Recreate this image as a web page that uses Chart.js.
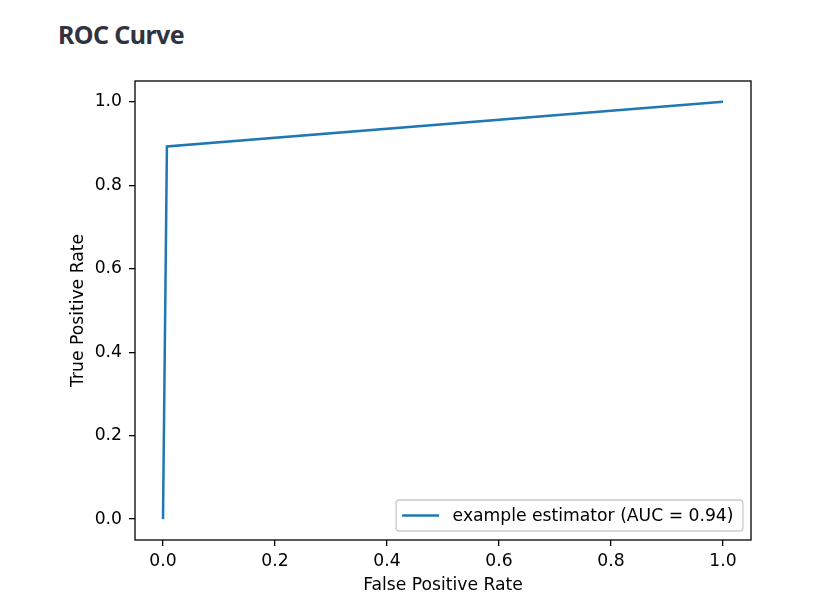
<!DOCTYPE html>
<html>
<head>
<meta charset="utf-8">
<script src="https://cdn.jsdelivr.net/npm/chart.js@4"></script>
<style>
  body { margin: 0; background: #fff; }
  #wrap { position: relative; width: 838px; height: 608px; }
  #title {
    position: absolute; left: 58px; top: 22px;
    font: bold 25px "Noto Sans", sans-serif; line-height: 25px;
    letter-spacing: -0.6px; color: #31333f;
  }
  canvas { position: absolute; left: 0; top: 0; }
</style>
</head>
<body>
<div id="wrap">
  <div id="title">ROC Curve</div>
  <canvas id="roc" width="838" height="608"></canvas>
</div>
<script>
// ── data ──
const fpr = [0, 0.007, 1.0];
const tpr = [0, 0.893, 1.0];
const seriesLabel = 'example estimator (AUC = 0.94)';
const tickValues = [0, 0.2, 0.4, 0.6, 0.8, 1.0];

const FONT = 'DejaVu Sans';
const FSIZE = 17.2;
const LINE = '#1f77b4';

// black box around the plot area (matplotlib spines)
const framePlugin = {
  id: 'frame',
  afterDraw(chart) {
    const { ctx, chartArea: a } = chart;
    ctx.save();
    ctx.strokeStyle = '#000';
    ctx.lineWidth = 1.3;
    ctx.strokeRect(a.left, a.top, a.right - a.left, a.bottom - a.top);
    ctx.restore();
  }
};

// legend inside the plot, lower right
const innerLegend = {
  id: 'innerLegend',
  afterDraw(chart) {
    const { ctx, chartArea: a } = chart;
    const ds = chart.data.datasets[0];
    ctx.save();
    ctx.font = FSIZE + 'px "' + FONT + '"';
    const tw = ctx.measureText(ds.label).width;
    const w = tw + 66, h = 31;
    const x = a.right - 8 - w, y = a.bottom - 9 - h;
    ctx.beginPath();
    ctx.roundRect(x, y, w, h, 3);
    ctx.fillStyle = 'rgba(255,255,255,0.8)';
    ctx.fill();
    ctx.strokeStyle = '#cccccc';
    ctx.lineWidth = 1.3;
    ctx.stroke();
    ctx.beginPath();
    ctx.moveTo(x + 6, y + h / 2);
    ctx.lineTo(x + 43, y + h / 2);
    ctx.strokeStyle = ds.borderColor;
    ctx.lineWidth = ds.borderWidth;
    ctx.stroke();
    ctx.fillStyle = '#000';
    ctx.textBaseline = 'middle';
    ctx.fillText(ds.label, x + 56.5, y + h / 2 + 1);
    ctx.restore();
  }
};

const fixTicks = scale => { scale.ticks = tickValues.map(v => ({ value: v })); };

const axisCommon = {
  type: 'linear',
  min: -0.05,
  max: 1.05,
  afterBuildTicks: fixTicks,
  border: { display: false },
  grid: { display: true, drawOnChartArea: false, drawTicks: true, tickLength: 6, color: '#000', tickColor: '#000', lineWidth: 1.3 },
};

const tickStyle = {
  color: '#000',
  font: { family: FONT, size: FSIZE },
  maxRotation: 0,
  autoSkip: false,
  callback: v => v.toFixed(1),
};

new Chart(document.getElementById('roc'), {
  type: 'scatter',
  data: {
    datasets: [{
      label: seriesLabel,
      data: fpr.map((x, i) => ({ x, y: tpr[i] })),
      showLine: true,
      borderColor: LINE,
      backgroundColor: LINE,
      borderWidth: 2.5,
      pointRadius: 0,
      tension: 0,
    }],
  },
  options: {
    responsive: false,
    animation: false,
    layout: { padding: { left: 0, top: 81, right: 87, bottom: 0 } },
    plugins: {
      legend: { display: false },
      tooltip: { enabled: false },
    },
    scales: {
      x: {
        ...axisCommon,
        position: 'bottom',
        afterFit: s => { s.height = 68; },
        ticks: { ...tickStyle, padding: 5 },
        title: { display: true, text: 'False Positive Rate', color: '#000', font: { family: FONT, size: FSIZE }, padding: { top: 0, bottom: 12 } },
      },
      y: {
        ...axisCommon,
        position: 'left',
        afterFit: s => { s.width = 135; },
        ticks: { ...tickStyle, padding: 7 },
        title: { display: true, text: 'True Positive Rate', color: '#000', font: { family: FONT, size: FSIZE }, padding: { top: 68.5, bottom: 0 } },
      },
    },
  },
  plugins: [framePlugin, innerLegend],
});
</script>
</body>
</html>
